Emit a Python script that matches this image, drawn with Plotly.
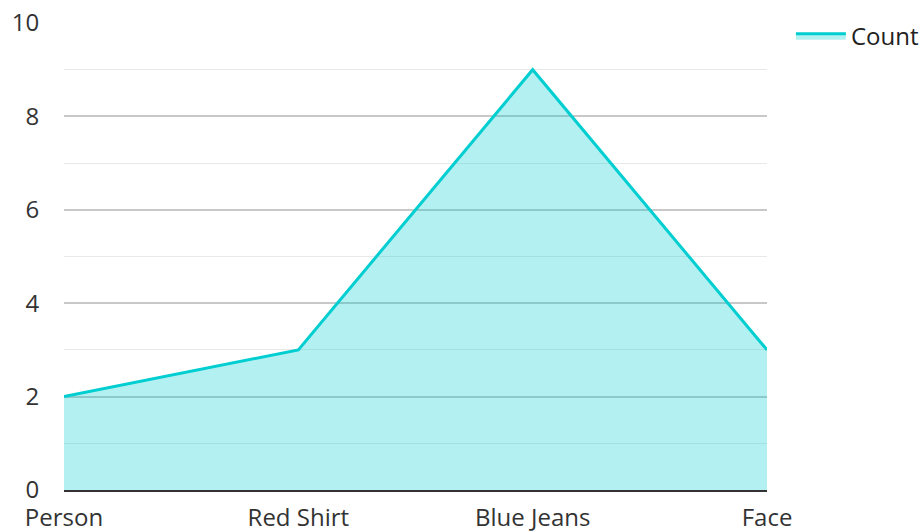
import plotly.graph_objects as go

categories = ["Person", "Red Shirt", "Blue Jeans", "Face"]
counts = [2, 3, 9, 3]
series_name = "Count"

fig = go.Figure()
fig.add_trace(go.Scatter(
    x=categories, y=counts, name=series_name, mode="lines",
    fill="tozeroy", fillcolor="rgba(0,206,209,0.3)",
    line=dict(color="#00CED1", width=3),
))

fig.update_layout(
    width=924, height=531,
    margin=dict(l=64, r=157, t=23, b=41, autoexpand=False),
    paper_bgcolor="white", plot_bgcolor="white",
    font=dict(family="Open Sans", size=24, color="#333333"),
    showlegend=True,
    legend=dict(x=1.034, y=1.02, xanchor="left", yanchor="top", itemwidth=50,
                font=dict(size=24, color="#222222"), bgcolor="rgba(0,0,0,0)"),
    xaxis=dict(range=[0, 3], showgrid=False, zeroline=False, automargin=False,
               showline=True, linecolor="#333333", linewidth=2,
               ticks="outside", ticklen=5, tickcolor="rgba(0,0,0,0)",
               fixedrange=True),
    yaxis=dict(range=[0, 10], dtick=2, showgrid=True, gridcolor="#c8c8c8", gridwidth=1.5,
               zeroline=False, showline=False, automargin=False,
               ticks="outside", ticklen=19, tickcolor="rgba(0,0,0,0)",
               minor=dict(dtick=1, showgrid=True, gridcolor="#e8e8e8", gridwidth=1)),
)

fig.write_html("out.html")
